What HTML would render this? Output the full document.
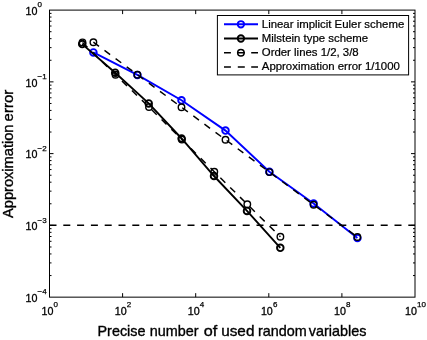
<!DOCTYPE html>
<html><head><meta charset="utf-8"><title>Plot</title>
<style>html,body{margin:0;padding:0;background:#fff;}svg{display:block;font-family:"Liberation Sans",sans-serif;}</style></head><body>
<svg width="427" height="340" viewBox="0 0 427 340">
<rect x="0" y="0" width="427" height="340" fill="#fff"/>
<rect x="49.5" y="10.1" width="365.5" height="287.04999999999995" fill="none" stroke="#000" stroke-width="1"/>
<path d="M122.60 297.15v-4M122.60 10.1v4M195.70 297.15v-4M195.70 10.1v4M268.80 297.15v-4M268.80 10.1v4M341.90 297.15v-4M341.90 10.1v4M49.5 60.26h2M415.0 60.26h-2M49.5 47.62h2M415.0 47.62h-2M49.5 38.66h2M415.0 38.66h-2M49.5 31.70h2M415.0 31.70h-2M49.5 26.02h2M415.0 26.02h-2M49.5 21.22h2M415.0 21.22h-2M49.5 17.05h2M415.0 17.05h-2M49.5 13.38h2M415.0 13.38h-2M49.5 81.86h4M415.0 81.86h-4M49.5 132.02h2M415.0 132.02h-2M49.5 119.39h2M415.0 119.39h-2M49.5 110.42h2M415.0 110.42h-2M49.5 103.47h2M415.0 103.47h-2M49.5 97.78h2M415.0 97.78h-2M49.5 92.98h2M415.0 92.98h-2M49.5 88.82h2M415.0 88.82h-2M49.5 85.15h2M415.0 85.15h-2M49.5 153.62h4M415.0 153.62h-4M49.5 203.78h2M415.0 203.78h-2M49.5 191.15h2M415.0 191.15h-2M49.5 182.18h2M415.0 182.18h-2M49.5 175.23h2M415.0 175.23h-2M49.5 169.55h2M415.0 169.55h-2M49.5 164.74h2M415.0 164.74h-2M49.5 160.58h2M415.0 160.58h-2M49.5 156.91h2M415.0 156.91h-2M49.5 225.39h4M415.0 225.39h-4M49.5 275.55h2M415.0 275.55h-2M49.5 262.91h2M415.0 262.91h-2M49.5 253.94h2M415.0 253.94h-2M49.5 246.99h2M415.0 246.99h-2M49.5 241.31h2M415.0 241.31h-2M49.5 236.50h2M415.0 236.50h-2M49.5 232.34h2M415.0 232.34h-2M49.5 228.67h2M415.0 228.67h-2" stroke="#000" stroke-width="1" fill="none"/>
<path d="M93.4 52.4L137.4 74.9L181.5 100.3L225.5 130.6L269.4 171.8L313.6 203.4L357.4 238.0" fill="none" stroke="#0000ff" stroke-width="1.9"/>
<circle cx="93.4" cy="52.4" r="3.3" fill="none" stroke="#0000ff" stroke-width="1.9"/>
<circle cx="137.4" cy="74.9" r="3.3" fill="none" stroke="#0000ff" stroke-width="1.9"/>
<circle cx="181.5" cy="100.3" r="3.3" fill="none" stroke="#0000ff" stroke-width="1.9"/>
<circle cx="225.5" cy="130.6" r="3.3" fill="none" stroke="#0000ff" stroke-width="1.9"/>
<circle cx="269.4" cy="171.8" r="3.3" fill="none" stroke="#0000ff" stroke-width="1.9"/>
<circle cx="313.6" cy="203.4" r="3.3" fill="none" stroke="#0000ff" stroke-width="1.9"/>
<circle cx="357.4" cy="238.0" r="3.3" fill="none" stroke="#0000ff" stroke-width="1.9"/>
<path d="M82.2 44.1L115.2 72.7L148.7 103.4L181.6 138.5L214.0 176.0L247.0 210.9L280.3 247.8" fill="none" stroke="#000" stroke-width="1.9"/>
<circle cx="82.2" cy="44.1" r="3.3" fill="none" stroke="#000" stroke-width="1.9"/>
<circle cx="115.2" cy="72.7" r="3.3" fill="none" stroke="#000" stroke-width="1.9"/>
<circle cx="148.7" cy="103.4" r="3.3" fill="none" stroke="#000" stroke-width="1.9"/>
<circle cx="181.6" cy="138.5" r="3.3" fill="none" stroke="#000" stroke-width="1.9"/>
<circle cx="214.0" cy="176.0" r="3.3" fill="none" stroke="#000" stroke-width="1.9"/>
<circle cx="247.0" cy="210.9" r="3.3" fill="none" stroke="#000" stroke-width="1.9"/>
<circle cx="280.3" cy="247.8" r="3.3" fill="none" stroke="#000" stroke-width="1.9"/>
<path d="M93.4 42.2L137.4 74.7L181.5 107.2L225.5 139.7L269.4 172.1L313.6 204.7L357.4 237.0" fill="none" stroke="#000" stroke-width="1.45" stroke-dasharray="7 6.8"/>
<circle cx="93.4" cy="42.2" r="3.25" fill="none" stroke="#000" stroke-width="1.4"/>
<circle cx="137.4" cy="74.7" r="3.25" fill="none" stroke="#000" stroke-width="1.4"/>
<circle cx="181.5" cy="107.2" r="3.25" fill="none" stroke="#000" stroke-width="1.4"/>
<circle cx="225.5" cy="139.7" r="3.25" fill="none" stroke="#000" stroke-width="1.4"/>
<circle cx="269.4" cy="172.1" r="3.25" fill="none" stroke="#000" stroke-width="1.4"/>
<circle cx="313.6" cy="204.7" r="3.25" fill="none" stroke="#000" stroke-width="1.4"/>
<circle cx="357.4" cy="237.0" r="3.25" fill="none" stroke="#000" stroke-width="1.4"/>
<path d="M82.5 42.4L115.5 74.8L149.0 107.0L181.9 139.6L214.3 171.8L247.3 204.3L280.4 236.8" fill="none" stroke="#000" stroke-width="1.45" stroke-dasharray="7 6.8"/>
<circle cx="82.5" cy="42.4" r="3.25" fill="none" stroke="#000" stroke-width="1.4"/>
<circle cx="115.5" cy="74.8" r="3.25" fill="none" stroke="#000" stroke-width="1.4"/>
<circle cx="149.0" cy="107.0" r="3.25" fill="none" stroke="#000" stroke-width="1.4"/>
<circle cx="181.9" cy="139.6" r="3.25" fill="none" stroke="#000" stroke-width="1.4"/>
<circle cx="214.3" cy="171.8" r="3.25" fill="none" stroke="#000" stroke-width="1.4"/>
<circle cx="247.3" cy="204.3" r="3.25" fill="none" stroke="#000" stroke-width="1.4"/>
<circle cx="280.4" cy="236.8" r="3.25" fill="none" stroke="#000" stroke-width="1.4"/>
<path d="M49.5 225.2H415.0" fill="none" stroke="#000" stroke-width="1.45" stroke-dasharray="7 6.8"/>
<rect x="217.4" y="15.5" width="191.2" height="59.4" fill="#fff" stroke="#000" stroke-width="1"/>
<path d="M224 24.3H258" stroke="#0000ff" stroke-width="1.9"/>
<circle cx="240.9" cy="24.3" r="3.2" fill="none" stroke="#0000ff" stroke-width="1.9"/>
<path d="M224 38.5H258" stroke="#000" stroke-width="1.9"/>
<circle cx="240.9" cy="38.5" r="3.2" fill="none" stroke="#000" stroke-width="1.9"/>
<path d="M224 52.8h6.9M251.2 52.8h6.8M237.8 52.8h7" stroke="#000" stroke-width="1.45"/>
<circle cx="240.9" cy="52.8" r="3.25" fill="none" stroke="#000" stroke-width="1.5"/>
<path d="M224 66.9h6.9M237.8 66.9h7M251.2 66.9h6.8" stroke="#000" stroke-width="1.45"/>
<text x="261.8" y="27.6" font-size="11.4" fill="#000" stroke="#000" stroke-width="0.22">Linear implicit Euler scheme</text>
<text x="261.8" y="41.8" font-size="11.4" fill="#000" stroke="#000" stroke-width="0.22">Milstein type scheme</text>
<text x="261.8" y="56.1" font-size="11.4" fill="#000" stroke="#000" stroke-width="0.22">Order lines 1/2, 3/8</text>
<text x="261.8" y="70.2" font-size="11.4" fill="#000" stroke="#000" stroke-width="0.22">Approximation error 1/1000</text>
<text x="41.6" y="314.6" font-size="10.7" fill="#000" stroke="#000" stroke-width="0.3">10</text>
<text x="53.6" y="307.4" font-size="8" fill="#000" stroke="#000" stroke-width="0.25">0</text>
<text x="114.7" y="314.6" font-size="10.7" fill="#000" stroke="#000" stroke-width="0.3">10</text>
<text x="126.7" y="307.4" font-size="8" fill="#000" stroke="#000" stroke-width="0.25">2</text>
<text x="187.8" y="314.6" font-size="10.7" fill="#000" stroke="#000" stroke-width="0.3">10</text>
<text x="199.8" y="307.4" font-size="8" fill="#000" stroke="#000" stroke-width="0.25">4</text>
<text x="260.9" y="314.6" font-size="10.7" fill="#000" stroke="#000" stroke-width="0.3">10</text>
<text x="272.9" y="307.4" font-size="8" fill="#000" stroke="#000" stroke-width="0.25">6</text>
<text x="334.0" y="314.6" font-size="10.7" fill="#000" stroke="#000" stroke-width="0.3">10</text>
<text x="346.0" y="307.4" font-size="8" fill="#000" stroke="#000" stroke-width="0.25">8</text>
<text x="405.0" y="314.6" font-size="10.7" fill="#000" stroke="#000" stroke-width="0.3">10</text>
<text x="417.0" y="307.4" font-size="8" fill="#000" stroke="#000" stroke-width="0.25">10</text>
<text x="25.5" y="14.8" font-size="10.7" fill="#000" stroke="#000" stroke-width="0.3">10</text>
<text x="37.5" y="7.3" font-size="8" fill="#000" stroke="#000" stroke-width="0.25">0</text>
<text x="25.5" y="86.6" font-size="10.7" fill="#000" stroke="#000" stroke-width="0.3">10</text>
<text x="37.5" y="79.1" font-size="8" fill="#000" stroke="#000" stroke-width="0.25">−1</text>
<text x="25.5" y="158.3" font-size="10.7" fill="#000" stroke="#000" stroke-width="0.3">10</text>
<text x="37.5" y="150.8" font-size="8" fill="#000" stroke="#000" stroke-width="0.25">−2</text>
<text x="25.5" y="230.1" font-size="10.7" fill="#000" stroke="#000" stroke-width="0.3">10</text>
<text x="37.5" y="222.6" font-size="8" fill="#000" stroke="#000" stroke-width="0.25">−3</text>
<text x="25.5" y="301.8" font-size="10.7" fill="#000" stroke="#000" stroke-width="0.3">10</text>
<text x="37.5" y="294.3" font-size="8" fill="#000" stroke="#000" stroke-width="0.25">−4</text>
<text y="336" font-size="14.4" fill="#000" stroke="#000" stroke-width="0.35"><tspan x="97.5">Precise </tspan><tspan x="149.8">number </tspan><tspan x="203.7" textLength="18" lengthAdjust="spacingAndGlyphs">of </tspan><tspan x="221.2" textLength="37.5" lengthAdjust="spacingAndGlyphs">used </tspan><tspan x="258.0">random </tspan><tspan x="308.8">variables</tspan></text>
<text transform="translate(12.9 218.2) rotate(-90)" font-size="14.4" fill="#000" stroke="#000" stroke-width="0.35"><tspan x="0.2" textLength="93.5" lengthAdjust="spacingAndGlyphs">Approximation</tspan><tspan> </tspan><tspan x="96.8" textLength="31.6" lengthAdjust="spacingAndGlyphs">error</tspan></text>
</svg></body></html>
